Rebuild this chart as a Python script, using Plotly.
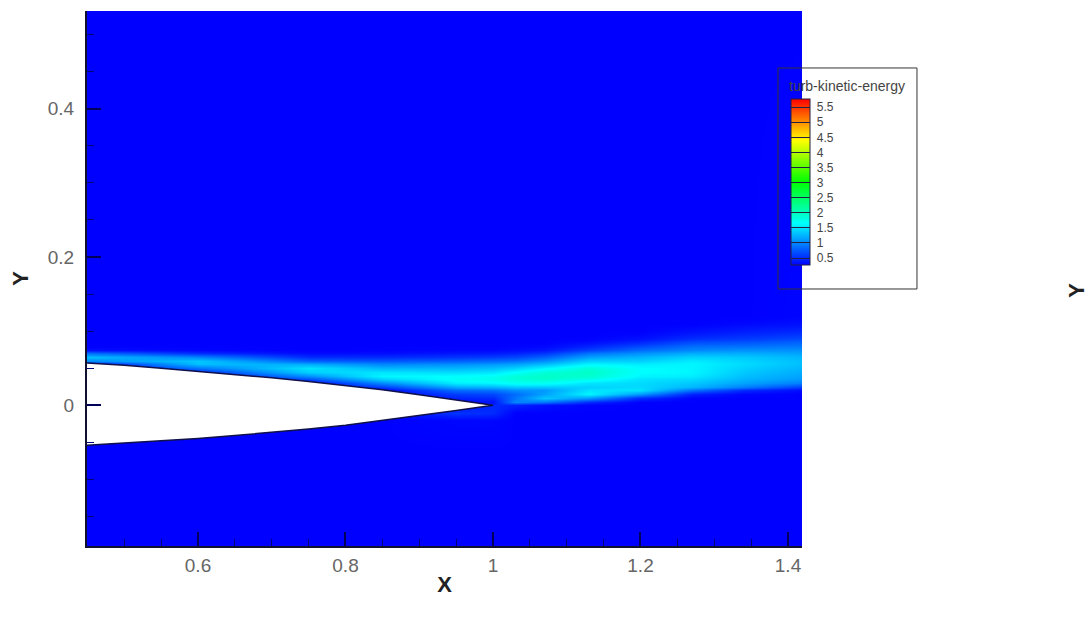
import numpy as np
import plotly.graph_objects as go

# grid the field was read on
x_grid = [0.4495, 0.6, 0.75, 0.85, 0.95, 1.0, 1.03, 1.07, 1.13, 1.2, 1.27, 1.34, 1.419]
y_grid = [-0.19, -0.06, -0.02, -0.01, 0, 0.005, 0.01, 0.015, 0.02, 0.025, 0.03, 0.035,
          0.04, 0.045, 0.05, 0.055, 0.06, 0.065, 0.07, 0.075, 0.08, 0.085, 0.09, 0.095,
          0.1, 0.105, 0.11, 0.115, 0.12, 0.532]

# turbulent kinetic energy, one list per x station, bottom to top
k_045 = [.27, .27, .27, .27, .27, .27, .27, .27, .27, .27, .27, .27, .27, .27, .27, .3, 1.0, 1.3, .85, .35, .27, .27, .27, .27, .27, .27, .27, .27, .27, .27]
k_060 = [.27, .27, .27, .27, .27, .27, .27, .27, .27, .27, .27, .27, .27, .5, .9, 1.3, 1.35, 1.0, .5, .3, .27, .27, .27, .27, .27, .27, .27, .27, .27, .27]
k_075 = [.27, .27, .27, .27, .27, .27, .27, .27, .27, .27, .3, .7, 1.05, 1.4, 1.5, 1.2, .8, .5, .32, .27, .27, .27, .27, .27, .27, .27, .27, .27, .27, .27]
k_085 = [.27, .27, .27, .27, .27, .27, .27, .27, .3, .6, 1.0, 1.4, 1.6, 1.5, 1.25, 1.0, .75, .5, .33, .28, .27, .27, .27, .27, .27, .27, .27, .27, .27, .27]
k_095 = [.27, .27, .3, .55, .3, .35, .45, .6, .85, 1.2, 1.55, 1.7, 1.65, 1.45, 1.25, 1.05, .8, .55, .38, .3, .27, .27, .27, .27, .27, .27, .27, .27, .27, .27]
k_100 = [.27, .27, .3, .5, .5, .35, .5, .65, .9, 1.25, 1.6, 1.75, 1.7, 1.5, 1.3, 1.1, .85, .6, .4, .3, .27, .27, .27, .27, .27, .27, .27, .27, .27, .27]
k_103 = [.27, .27, .27, .27, .45, 1.0, .9, .85, 1.05, 1.35, 1.7, 1.85, 1.85, 1.65, 1.4, 1.15, .9, .65, .45, .33, .28, .27, .27, .27, .27, .27, .27, .27, .27, .27]
k_107 = [.27, .27, .27, .27, .35, .9, 1.35, 1.15, 1.1, 1.35, 1.7, 1.9, 1.95, 1.85, 1.6, 1.3, 1.05, .8, .55, .38, .3, .27, .27, .27, .27, .27, .27, .27, .27, .27]
k_113 = [.27, .27, .27, .27, .28, .5, 1.1, 1.6, 1.5, 1.4, 1.5, 1.75, 1.9, 1.95, 1.85, 1.6, 1.4, 1.15, .88, .62, .45, .33, .28, .27, .27, .27, .27, .27, .27, .27]
k_120 = [.27, .27, .27, .27, .27, .28, .5, 1.1, 1.5, 1.45, 1.45, 1.5, 1.6, 1.65, 1.65, 1.55, 1.4, 1.25, 1.05, .85, .65, .47, .36, .3, .27, .27, .27, .27, .27, .27]
k_127 = [.27, .27, .27, .27, .27, .27, .28, .45, .9, 1.25, 1.35, 1.45, 1.55, 1.6, 1.6, 1.6, 1.55, 1.4, 1.2, 1.0, .85, .68, .53, .42, .35, .3, .27, .27, .27, .27]
k_134 = [.27, .27, .27, .27, .27, .27, .27, .3, .5, .95, 1.15, 1.25, 1.3, 1.35, 1.4, 1.45, 1.42, 1.35, 1.2, 1.05, .88, .72, .6, .5, .42, .36, .31, .28, .27, .27]
k_142 = [.27, .27, .27, .27, .27, .27, .27, .27, .33, .6, .95, 1.1, 1.15, 1.2, 1.25, 1.3, 1.3, 1.25, 1.15, 1.05, .92, .8, .68, .57, .48, .41, .36, .32, .29, .27]

# airfoil surface
foil_x = [0.4495, 0.5, 0.55, 0.6, 0.65, 0.7, 0.75, 0.8, 0.85, 0.9, 0.95, 1.0,
          0.95, 0.9, 0.85, 0.8, 0.75, 0.7, 0.65, 0.6, 0.55, 0.5, 0.4495]
foil_y = [0.057, 0.054, 0.050, 0.046, 0.042, 0.037, 0.032, 0.027, 0.021, 0.014, 0.007, 0.0,
          -0.007, -0.014, -0.021, -0.027, -0.032, -0.037, -0.041, -0.045, -0.048, -0.051, -0.054]

x_ticks = [0.6, 0.8, 1, 1.2, 1.4]
x_labels = ['0.6', '0.8', '1', '1.2', '1.4']
y_ticks = [0, 0.2, 0.4]
y_labels = ['0', '0.2', '0.4']
level_vals = [0.5, 1, 1.5, 2, 2.5, 3, 3.5, 4, 4.5, 5, 5.5]
level_labels = ['0.5', '1', '1.5', '2', '2.5', '3', '3.5', '4', '4.5', '5', '5.5']

z = np.array([k_045, k_060, k_075, k_085, k_095, k_100, k_103, k_107,
              k_113, k_120, k_127, k_134, k_142]).T

rainbow = [[0, 'rgb(0,0,255)'], [0.25, 'rgb(0,255,255)'], [0.5, 'rgb(0,255,0)'],
           [0.75, 'rgb(255,255,0)'], [1, 'rgb(255,0,0)']]

fig = go.Figure()

fig.add_trace(go.Heatmap(
    x=x_grid,
    y=y_grid,
    z=z,
    zmin=0.27,
    zmax=5.77,
    zsmooth='best',
    colorscale=rainbow,
    hoverinfo='skip',
    colorbar=dict(
        x=(791 - 87) / 715,
        xanchor='left',
        y=(546 - 265) / 535,
        yanchor='bottom',
        lenmode='pixels',
        len=166,
        thicknessmode='pixels',
        thickness=19,
        xpad=0,
        ypad=0,
        outlinecolor='#222244',
        outlinewidth=1,
        ticks='inside',
        ticklen=19,
        tickwidth=1,
        tickcolor='#222244',
        tickvals=level_vals,
        ticktext=['\u00a0' + s for s in level_labels],  # pushes labels off the bar
        tickfont=dict(family='Liberation Sans', size=12, color='#444444'),
    ),
))

fig.add_trace(go.Scatter(
    x=foil_x,
    y=foil_y,
    mode='lines',
    fill='toself',
    fillcolor='white',
    line=dict(color='#10104a', width=1.5),
    hoverinfo='skip',
    showlegend=False,
))

axis_style = dict(
    showgrid=False,
    zeroline=False,
    showline=True,
    linecolor='#101030',
    linewidth=2,
    ticks='inside',
    ticklen=14,
    tickwidth=2,
    tickcolor='#00005a',
    tickfont=dict(family='Liberation Sans', size=19, color='#666666'),
    minor=dict(ticks='inside', ticklen=7, tickwidth=1, tickcolor='#000078', tick0=0, dtick=0.05),
)

fig.update_xaxes(
    range=[0.4495, 1.419],
    tickvals=x_ticks,
    ticktext=x_labels,
    ticklabelstandoff=1,
    title=dict(text='<b>X</b>', font=dict(family='Liberation Sans', size=22, color='#222222'), standoff=2),
    **axis_style,
)
fig.update_yaxes(
    range=[-0.19, 0.532],
    tickvals=y_ticks,
    ticktext=y_labels,
    ticklabelstandoff=7,
    title=dict(text='<b>Y</b>', font=dict(family='Liberation Sans', size=22, color='#222222'), standoff=13),
    **axis_style,
)

fig.update_layout(
    width=1085,
    height=637,
    margin=dict(l=87, r=283, t=11, b=91, autoexpand=False),
    paper_bgcolor='white',
    plot_bgcolor='white',
    showlegend=False,
    shapes=[dict(
        type='rect', xref='paper', yref='paper',
        x0=0.9664, x1=1.1608, y0=0.4804, y1=0.8935,
        line=dict(color='#333333', width=1),
    )],
    annotations=[
        dict(text='turb-kinetic-energy', xref='paper', yref='paper', x=0.979, y=0.8598,
             xanchor='left', yanchor='middle', showarrow=False,
             font=dict(family='Liberation Sans', size=14, color='#444444')),
        # y label of the next panel
        dict(text='<b>Y</b>', xref='paper', yref='paper', x=1.383, y=0.4785,
             xanchor='center', yanchor='middle', showarrow=False, textangle=-90,
             font=dict(family='Liberation Sans', size=22, color='#222222')),
    ],
)

fig.write_html("out.html", config=dict(displayModeBar=False),
               post_script="document.body.style.margin='0';")
